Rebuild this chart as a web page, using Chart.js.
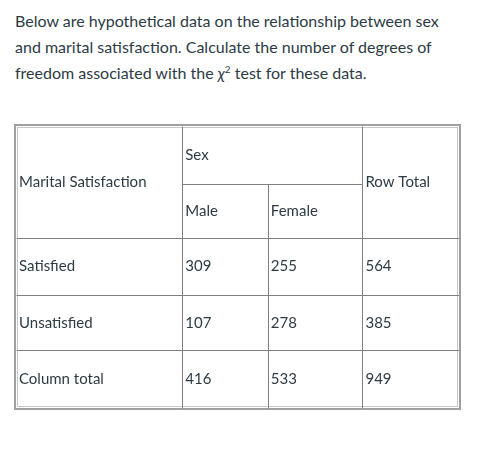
<!DOCTYPE html>
<html><head><meta charset="utf-8">
<script src="https://cdn.jsdelivr.net/npm/chart.js@4/dist/chart.umd.min.js"></script>
<style>
body{margin:0;background:#fff;font-family:Lato,"Noto Sans",sans-serif;color:#2d3b45}
#q{position:absolute;left:15px;top:8px;width:450px;font-size:16px;line-height:26px}
#q sup{font-size:10px;line-height:0}
#wrap{position:absolute;left:14px;top:124px;width:447px;height:286px}
</style></head><body>
<div id="q">Below are hypothetical data on the relationship between sex and marital satisfaction. Calculate the number of degrees of freedom associated with the <i>&chi;</i><sup>2</sup> test for these data.</div>
<div id="wrap"><canvas id="tbl"></canvas></div>
<script>
// table content
const rowLabels = ["Satisfied", "Unsatisfied", "Column total"];
const maleValues = [309, 107, 416];
const femaleValues = [255, 278, 533];
const rowTotals = [564, 385, 949];
const headerTop = ["Marital Satisfaction", "Sex", "Row Total"];
const headerSub = ["Male", "Female"];

// layout of the grid in scale units
const colEdges = [0, 167, 253, 348, 445];
const rowEdges = [0, 58, 112, 170, 225, 283];

const gridPlugin = {
  id: 'grid',
  afterDraw(chart) {
    const c = chart.ctx, xs = chart.scales.x, ys = chart.scales.y;
    const X = v => xs.getPixelForValue(v), Y = v => ys.getPixelForValue(v);
    c.save();
    // outer double border
    c.strokeStyle = '#a0a0a0'; c.lineWidth = 2;
    c.strokeRect(X(0) - 1, Y(0) - 1, X(445) - X(0) + 2, Y(283) - Y(0) + 2);
    c.strokeStyle = '#c8c8c8'; c.lineWidth = 1;
    c.strokeRect(X(0) + 1.5, Y(0) + 1.5, X(445) - X(0) - 3, Y(283) - Y(0) - 3);
    c.strokeStyle = '#808080'; c.lineWidth = 1;
    const line = (x1, y1, x2, y2) => { c.beginPath(); c.moveTo(Math.round(X(x1)) + .5, Math.round(Y(y1)) + .5); c.lineTo(Math.round(X(x2)) + .5, Math.round(Y(y2)) + .5); c.stroke(); };
    line(colEdges[1], 0, colEdges[1], 283);
    line(colEdges[3], 0, colEdges[3], 283);
    line(colEdges[2], rowEdges[1], colEdges[2], 283);
    line(colEdges[1], rowEdges[1], colEdges[3], rowEdges[1]);
    for (let i = 2; i < 5; i++) line(0, rowEdges[i], 445, rowEdges[i]);
    c.fillStyle = '#2d3b45'; c.font = '15px Lato, "Noto Sans", sans-serif';
    c.textBaseline = 'middle';
    const txt = (s, col, r0, r1) => c.fillText(s, X(colEdges[col]) + 3, (Y(rowEdges[r0]) + Y(rowEdges[r1])) / 2);
    txt(headerTop[0], 0, 0, 2);
    txt(headerTop[1], 1, 0, 1);
    txt(headerTop[2], 3, 0, 2);
    txt(headerSub[0], 1, 1, 2);
    txt(headerSub[1], 2, 1, 2);
    rowLabels.forEach((l, i) => {
      txt(l, 0, i + 2, i + 3);
      txt(String(maleValues[i]), 1, i + 2, i + 3);
      txt(String(femaleValues[i]), 2, i + 2, i + 3);
      txt(String(rowTotals[i]), 3, i + 2, i + 3);
    });
    c.restore();
  }
};

new Chart(document.getElementById('tbl'), {
  type: 'scatter',
  data: { datasets: [{ data: [] }] },
  options: {
    responsive: true, maintainAspectRatio: false, animation: false,
    layout: { padding: 2 },
    plugins: { legend: { display: false }, tooltip: { enabled: false } },
    scales: {
      x: { type: 'linear', min: 0, max: 445, display: false },
      y: { type: 'linear', min: 0, max: 283, reverse: true, display: false }
    }
  },
  plugins: [gridPlugin]
});
</script>
</body></html>
